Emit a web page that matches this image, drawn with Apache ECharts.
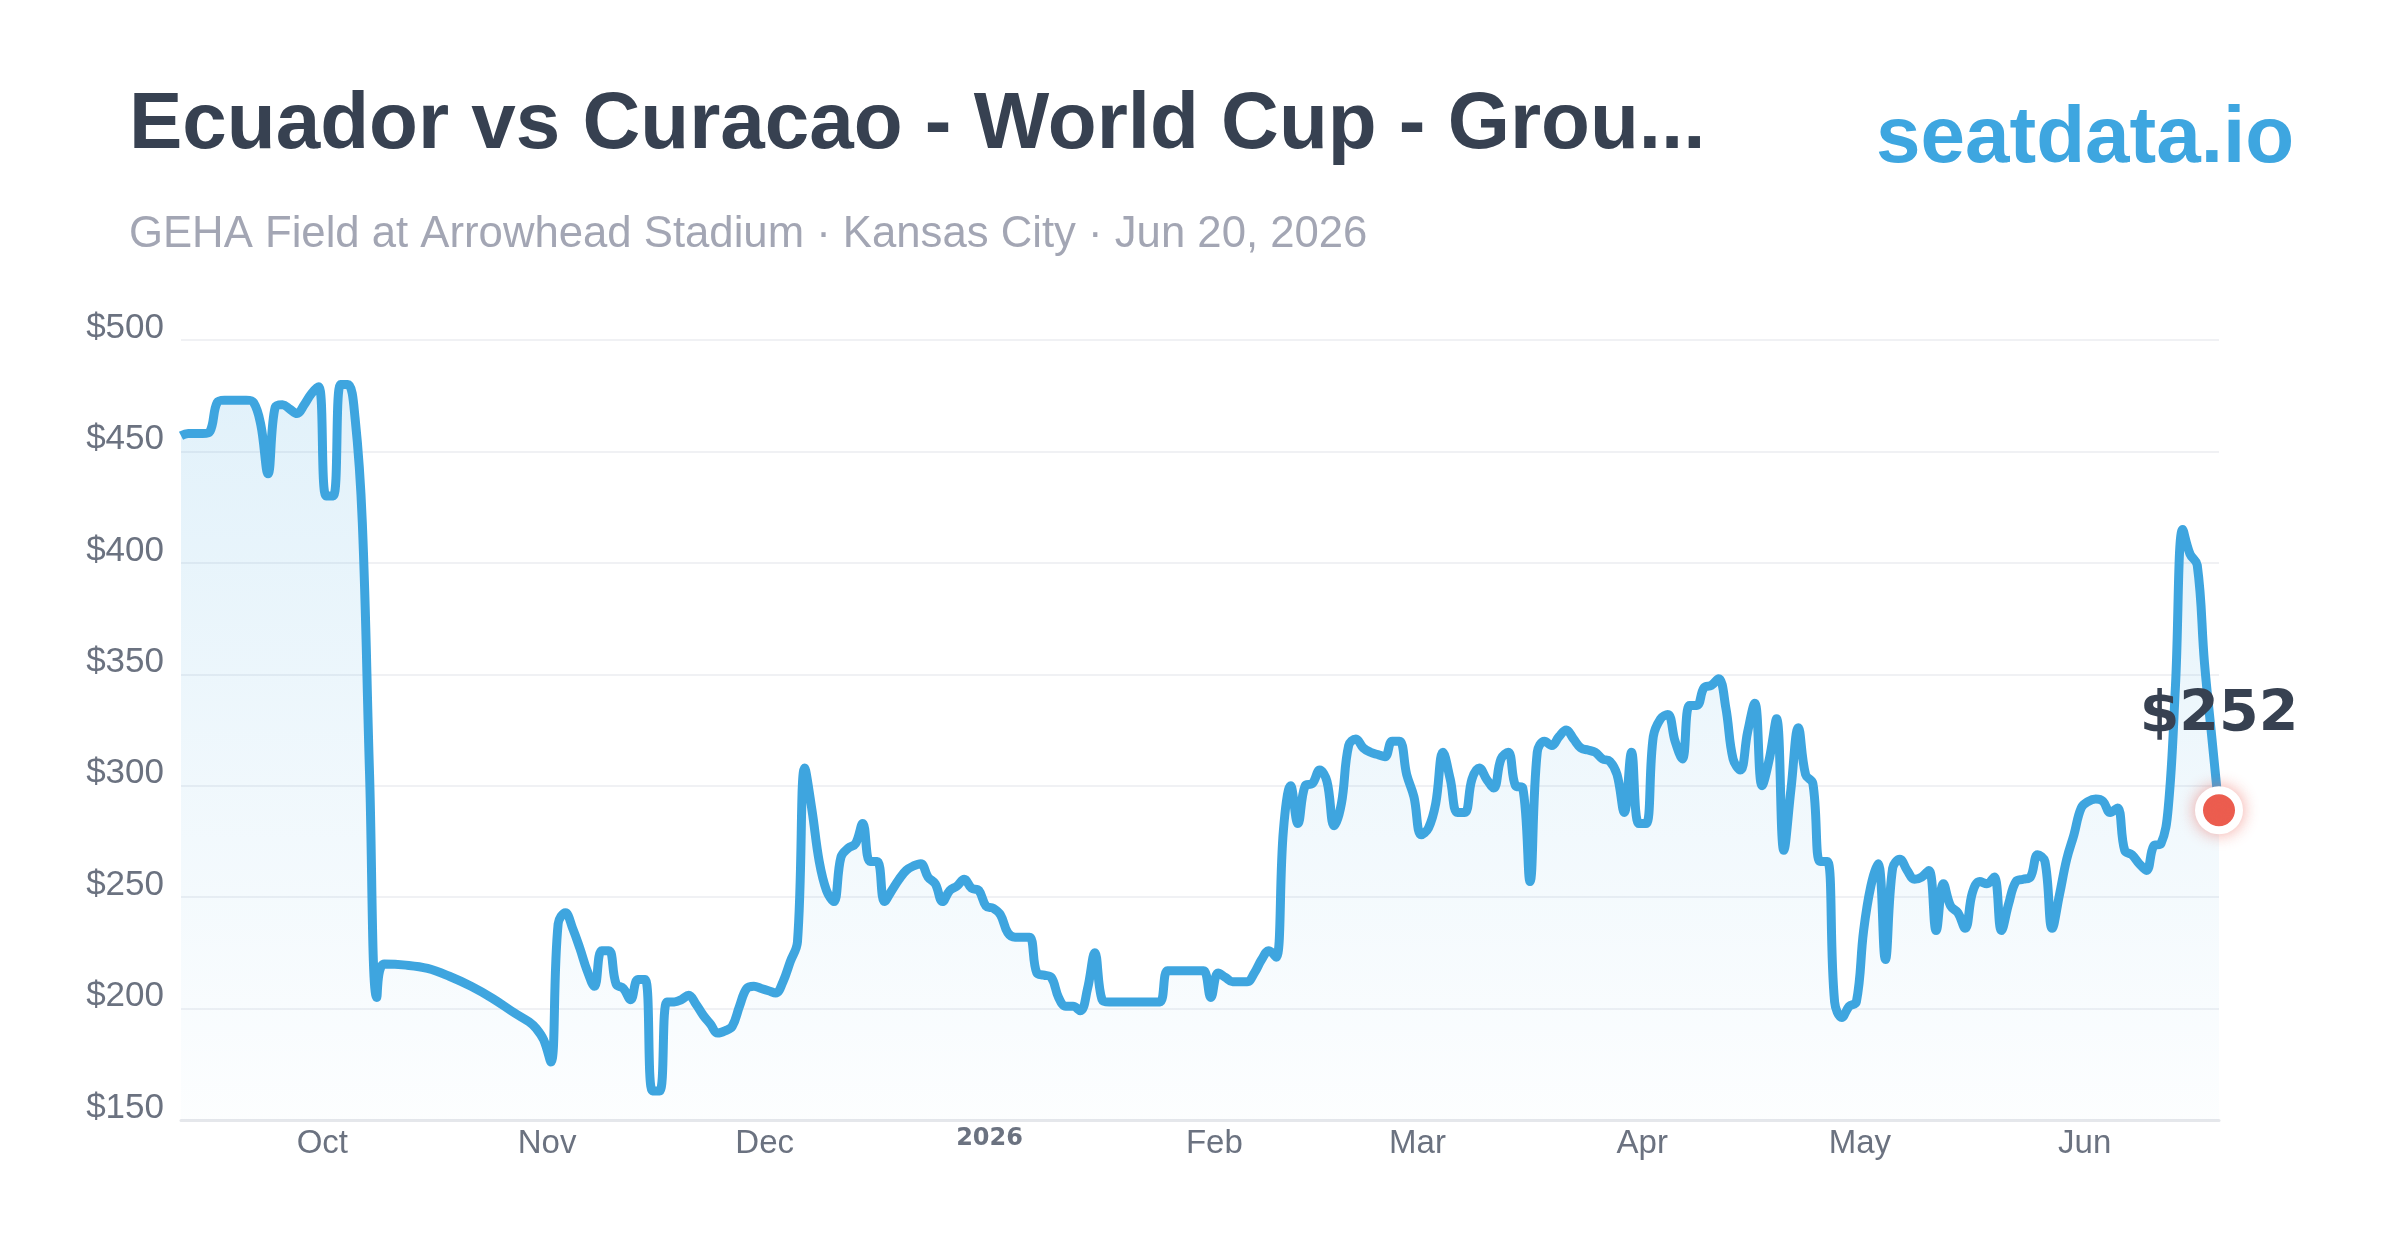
<!DOCTYPE html>
<html lang="en">
<head>
    <meta charset="UTF-8">
    <title>Ecuador vs Curacao - price history</title>
    <style>
        html, body {
            margin: 0;
            padding: 0;
            background: #fff;
        }
        #chart {
            width: 2400px;
            height: 1260px;
        }
    </style>
    <script src="https://cdn.jsdelivr.net/npm/echarts@6/dist/echarts.min.js"></script>
</head>
<body>
    <div id="chart"></div>
</body>
<script>
    // daily dates, Sep 12 2025 -> Jun 20 2026 (gaps where the source had none)
    var dates = [
        '2025-09-12','2025-09-13','2025-09-14','2025-09-15','2025-09-16','2025-09-17','2025-09-18','2025-09-19',
        '2025-09-20','2025-09-21','2025-09-22','2025-09-23','2025-09-24','2025-09-25','2025-09-26','2025-09-27',
        '2025-09-28','2025-09-29','2025-09-30',
        '2025-10-01','2025-10-02','2025-10-03','2025-10-04','2025-10-05','2025-10-06','2025-10-07','2025-10-08',
        '2025-10-09','2025-10-10','2025-10-13','2025-10-16','2025-10-19','2025-10-22','2025-10-25','2025-10-28',
        '2025-10-30','2025-10-31',
        '2025-11-01','2025-11-02','2025-11-03','2025-11-04','2025-11-05','2025-11-06','2025-11-07','2025-11-08',
        '2025-11-09','2025-11-10','2025-11-11','2025-11-12','2025-11-13','2025-11-14','2025-11-15','2025-11-16',
        '2025-11-17','2025-11-18','2025-11-19','2025-11-20','2025-11-21','2025-11-22','2025-11-23','2025-11-24',
        '2025-11-25','2025-11-26','2025-11-27','2025-11-28','2025-11-29','2025-11-30',
        '2025-12-01','2025-12-02','2025-12-03','2025-12-04','2025-12-05','2025-12-06','2025-12-07','2025-12-08',
        '2025-12-09','2025-12-10','2025-12-11','2025-12-12','2025-12-13','2025-12-14','2025-12-15','2025-12-16',
        '2025-12-17','2025-12-18','2025-12-19','2025-12-20','2025-12-21','2025-12-22','2025-12-23','2025-12-24',
        '2025-12-25','2025-12-26','2025-12-27','2025-12-28','2025-12-29','2025-12-30','2025-12-31',
        '2026-01-01','2026-01-02','2026-01-03','2026-01-04','2026-01-05','2026-01-06','2026-01-07','2026-01-08',
        '2026-01-09','2026-01-10','2026-01-11','2026-01-12','2026-01-13','2026-01-14','2026-01-15','2026-01-16',
        '2026-01-17','2026-01-18','2026-01-19','2026-01-20','2026-01-21','2026-01-22','2026-01-23','2026-01-24',
        '2026-01-25','2026-01-26','2026-01-27','2026-01-28','2026-01-29','2026-01-30','2026-01-31',
        '2026-02-01','2026-02-02','2026-02-03','2026-02-04','2026-02-05','2026-02-06','2026-02-07','2026-02-08',
        '2026-02-09','2026-02-10','2026-02-11','2026-02-12','2026-02-13','2026-02-14','2026-02-15','2026-02-16',
        '2026-02-17','2026-02-18','2026-02-19','2026-02-20','2026-02-21','2026-02-22','2026-02-23','2026-02-24',
        '2026-02-25','2026-02-26','2026-02-27','2026-02-28',
        '2026-03-01','2026-03-02','2026-03-03','2026-03-04','2026-03-05','2026-03-06','2026-03-07','2026-03-08',
        '2026-03-09','2026-03-10','2026-03-11','2026-03-12','2026-03-13','2026-03-14','2026-03-15','2026-03-16',
        '2026-03-17','2026-03-18','2026-03-19','2026-03-20','2026-03-21','2026-03-22','2026-03-23','2026-03-24',
        '2026-03-25','2026-03-26','2026-03-27','2026-03-28','2026-03-29','2026-03-30','2026-03-31',
        '2026-04-01','2026-04-02','2026-04-03','2026-04-04','2026-04-05','2026-04-06','2026-04-07','2026-04-08',
        '2026-04-09','2026-04-10','2026-04-11','2026-04-12','2026-04-13','2026-04-14','2026-04-15','2026-04-16',
        '2026-04-17','2026-04-18','2026-04-19','2026-04-20','2026-04-21','2026-04-22','2026-04-23','2026-04-24',
        '2026-04-25','2026-04-26','2026-04-27','2026-04-28','2026-04-29','2026-04-30',
        '2026-05-01','2026-05-02','2026-05-03','2026-05-04','2026-05-05','2026-05-06','2026-05-07','2026-05-08',
        '2026-05-09','2026-05-10','2026-05-11','2026-05-12','2026-05-13','2026-05-14','2026-05-15','2026-05-16',
        '2026-05-17','2026-05-18','2026-05-19','2026-05-20','2026-05-21','2026-05-22','2026-05-23','2026-05-24',
        '2026-05-25','2026-05-26','2026-05-27','2026-05-28','2026-05-29','2026-05-30','2026-05-31',
        '2026-06-01','2026-06-02','2026-06-03','2026-06-04','2026-06-05','2026-06-06','2026-06-07','2026-06-08',
        '2026-06-09','2026-06-10','2026-06-11','2026-06-12','2026-06-13','2026-06-14','2026-06-15','2026-06-16',
        '2026-06-17','2026-06-18','2026-06-19','2026-06-20'
    ];
    var prices = [
        457,458,458,458,459,472,473,473,
        473,473,472,462,440,470,471,469,
        467,471,476,
        479,430,430,480,480,465,418,305,
        205,220,219.5,218,214.5,210,204.5,198,
        194,191,
        186,176,238,243,236,227,217,210,
        226,226,211,209,204,213,213,163,
        163,203,203,204,206,202,197,193,
        189,190,192,201,209,210,
        209,208,207,212,221,230,308,289,
        266,253,248,268,272,274,283,266,
        266,248,253,258,262,264,265,259,
        256,248,253,255,258,254,253,
        246,245,242,234,232,232,232,216,
        215,214,205,201,201,199,209,225,
        204,203,203,203,203,203,203,203,
        203,217,217,217,217,217,217,
        205,216,214,212,212,212,216,222,
        226,223,280,300,283,300,301,307,
        302,282,292,318,321,317,315,314,
        313,320,320,305,
        295,278,281,292,315,303,288,288,
        303,308,303,299,312,315,300,299,
        257,315,320,318,322,325,321,317,
        316,315,312,311,305,288,315,
        283,283,322,330,332,320,312,336,
        336,344,345,348,335,312,307,324,
        337,300,312,330,271,299,326,305,
        301,266,266,203,196,201,
        203,235,255,265,222,263,267,262,
        258,259,262,235,256,246,243,236,
        252,257,256,259,235,247,257,258,
        259,269,266,236,251,267,278,
        290,293,294,293,288,290,271,269,
        265,262,273,274,290,345,415,404,
        399,355,322,289
    ];
    var yMin = 150;
    var yMax = 500;
    var yStep = 50;
    var currentPrice = 252;
    var titleText = 'Ecuador vs Curacao - World Cup - Grou...';
    var subText = 'GEHA Field at Arrowhead Stadium \u00b7 Kansas City \u00b7 Jun 20, 2026';
    var brandText = 'seatdata.io';

    var mCharts = echarts.init(document.getElementById('chart'));

    var lineData = dates.map(function (d, i) {
        return [d, prices[i]];
    });
    var last = lineData[lineData.length - 1];
    var sans = '"Liberation Sans", Arial, sans-serif';

    var option = {
        backgroundColor: '#fff',
        textStyle: { fontFamily: sans },
        title: [
            {
                text: titleText,
                left: 124,
                top: 81,
                textStyle: { fontSize: 80, fontWeight: 'bold', color: '#374151', fontFamily: sans }
            },
            {
                text: subText,
                left: 124,
                top: 208,
                textStyle: { fontSize: 43.7, fontWeight: 'normal', color: '#a3a6b4', fontFamily: sans }
            },
            {
                text: brandText,
                right: 101,
                top: 95,
                textStyle: { fontSize: 80, fontWeight: 'bold', color: '#3ea6e0', fontFamily: sans }
            }
        ],
        grid: {
            left: 181,
            right: 181,
            top: 340,
            bottom: 140
        },
        xAxis: {
            type: 'time',
            min: 'dataMin',
            max: 'dataMax',
            splitNumber: 9,
            axisLine: {
                show: true,
                lineStyle: { color: '#e5e7eb', width: 3 }
            },
            axisTick: { show: false },
            splitLine: { show: false },
            axisLabel: {
                fontSize: 33,
                color: '#6b7280',
                margin: 7,
                padding: [0, 0, 0, 7],
                fontFamily: sans,
                formatter: {
                    year: '{yr|{yyyy}}',
                    month: '{MMM}'
                },
                rich: {
                    yr: {
                        fontSize: 24,
                        fontWeight: 'bold',
                        color: '#6b7280',
                        fontFamily: '"DejaVu Sans", sans-serif'
                    }
                }
            }
        },
        yAxis: {
            type: 'value',
            min: yMin,
            max: yMax,
            interval: yStep,
            axisLine: { show: false },
            axisTick: { show: false },
            splitLine: {
                lineStyle: { color: '#f0f1f4', width: 2 }
            },
            axisLabel: {
                fontSize: 35,
                color: '#6b7280',
                margin: 17,
                verticalAlign: 'bottom',
                lineHeight: 24,
                formatter: '${value}',
                fontFamily: sans
            }
        },
        series: [
            {
                type: 'line',
                data: lineData,
                smooth: 0.4,
                symbol: 'none',
                lineStyle: { color: '#3ea5df', width: 9 },
                areaStyle: {
                    color: new echarts.graphic.LinearGradient(0, 0, 0, 1, [
                        { offset: 0, color: 'rgba(62,165,223,0.22)' },
                        { offset: 1, color: 'rgba(62,165,223,0.02)' }
                    ])
                },
                z: 2
            },
            {
                // current price marker
                type: 'scatter',
                data: [last],
                clip: false,
                symbolSize: 40,
                itemStyle: {
                    opacity: 1,
                    color: '#ec5d4f',
                    borderColor: '#fff',
                    borderWidth: 8,
                    shadowBlur: 16,
                    shadowColor: 'rgba(236,93,79,0.45)'
                },
                label: {
                    show: true,
                    position: 'top',
                    distance: 42,
                    formatter: '$' + currentPrice,
                    fontSize: 57,
                    fontWeight: 'bold',
                    color: '#374151',
                    fontFamily: '"DejaVu Sans", sans-serif'
                },
                z: 5
            }
        ]
    };
    mCharts.setOption(option);
</script>
</html>
